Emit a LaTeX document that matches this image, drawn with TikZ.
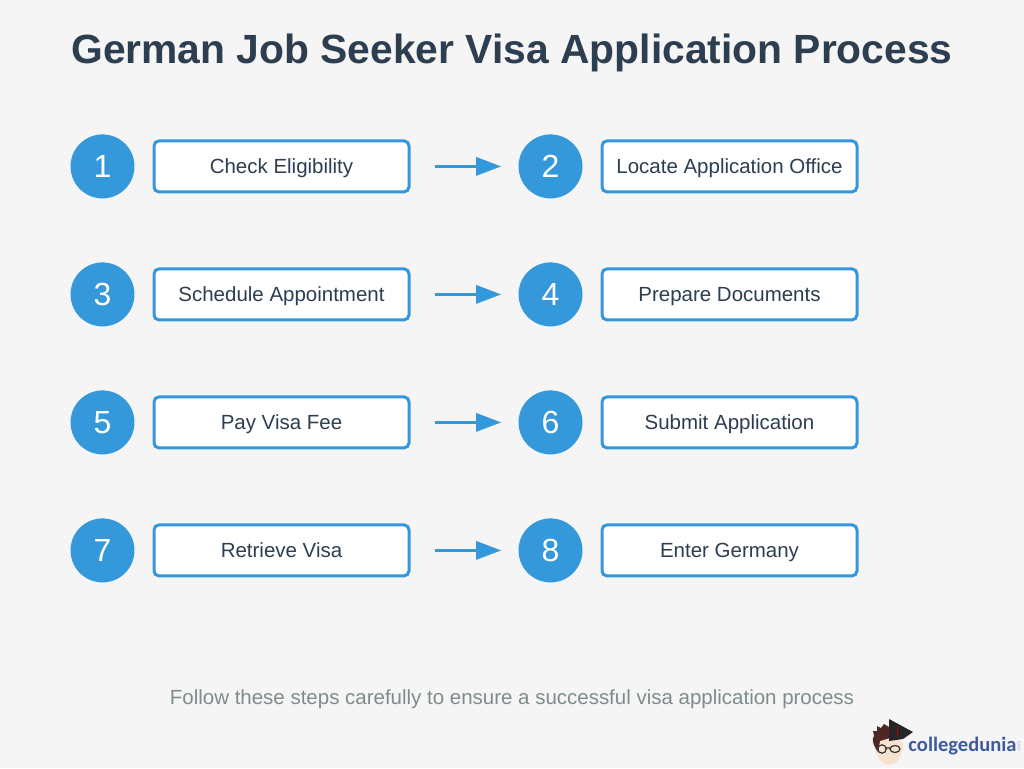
\documentclass[tikz,border=0pt]{standalone}
\usepackage{fontspec}
\setmainfont{Liberation Sans}
\newfontfamily\logofont{Carlito}
\usetikzlibrary{arrows.meta}
\definecolor{PageColor}{RGB}{245,245,245}
\definecolor{Blue}{RGB}{52,152,219}
\definecolor{Dark}{RGB}{44,62,80}
\definecolor{FootColor}{RGB}{127,140,141}
\definecolor{LogoBlue}{RGB}{62,91,158}
\definecolor{Skin}{RGB}{246,226,205}
\definecolor{Hair}{RGB}{78,38,36}
\tikzset{
  num/.style={circle,fill=Blue,text=white,minimum size=48pt,inner sep=0pt,font=\fontsize{24}{28}\selectfont},
  item/.style={draw=Blue,fill=white,text=Dark,line width=2.25pt,rounded corners=3.75pt,minimum width=191.25pt,minimum height=38.25pt,inner sep=0pt,text height=10pt,text depth=0pt,font=\fontsize{15.36}{20}\selectfont},
  go/.style={-{Triangle[length=18.75pt,width=13.5pt]},line width=2.25pt,draw=Blue,shorten <=18pt,shorten >=12.75pt}
}
\begin{document}
\begin{tikzpicture}[x=0.75pt,y=-0.75pt]
\useasboundingbox (0,0) rectangle (1024,768);
\fill[PageColor] (0,0) rectangle (1024,768);

\node[text=Dark,text height=20.2pt,text depth=0pt,font=\bfseries\fontsize{30.6}{40}\selectfont] (title) at (512,50) {German Job Seeker Visa Application Process};

\node[num] (num1) at (102.5,166.4) {1};
\node[item] (item1) at (281.5,166.4) {Check Eligibility};
\node[num] (num2) at (550.5,166.4) {2};
\node[item] (item2) at (729.5,166.4) {Locate Application Office};

\node[num] (num3) at (102.5,294.4) {3};
\node[item] (item3) at (281.5,294.4) {Schedule Appointment};
\node[num] (num4) at (550.5,294.4) {4};
\node[item] (item4) at (729.5,294.4) {Prepare Documents};

\node[num] (num5) at (102.5,422.4) {5};
\node[item] (item5) at (281.5,422.4) {Pay Visa Fee};
\node[num] (num6) at (550.5,422.4) {6};
\node[item] (item6) at (729.5,422.4) {Submit Application};

\node[num] (num7) at (102.5,550.4) {7};
\node[item] (item7) at (281.5,550.4) {Retrieve Visa};
\node[num] (num8) at (550.5,550.4) {8};
\node[item] (item8) at (729.5,550.4) {Enter Germany};

\draw[go] (item1) to (num2);
\draw[go] (item3) to (num4);
\draw[go] (item5) to (num6);
\draw[go] (item7) to (num8);

\node[text=FootColor,text height=10.5pt,text depth=0pt,font=\fontsize{15.36}{20}\selectfont] (foot) at (512,697) {Follow these steps carefully to ensure a successful visa application process};

% logo
\fill[Skin] (875,744) .. controls (875,757) and (882,765) .. (889,765) .. controls (897,765) and (903,755) .. (903,743) -- (890,732) -- cycle;
\fill[Hair] (878,752) .. controls (872,744) and (872,738) .. (874,736) -- (873,731) -- (877,731) -- (877,726) -- (881,728) -- (884,724) -- (889,727) -- (890,738) -- (880,741) -- cycle;
\fill[black!85] (889,719) -- (913,732) -- (903,739) -- (889,741) -- cycle;
\draw[red!70!black,line width=0.6pt] (897,727) -- (897,736);
\draw[black!80,line width=0.9pt] (882,749) circle (4.2) (895,749) ellipse (5 and 3.5) (886,748) -- (890,748) (877,747) -- (878,748);
\node[text=LogoBlue,inner sep=0pt,font=\logofont\bfseries\fontsize{15.4}{20}\selectfont] (logo) at (962.5,746) {collegedunia};
\node[text=LogoBlue!50,inner sep=0pt,rotate=90,font=\logofont\fontsize{4}{5}\selectfont] (logocom) at (1019,747) {.com};
\end{tikzpicture}
\end{document}
